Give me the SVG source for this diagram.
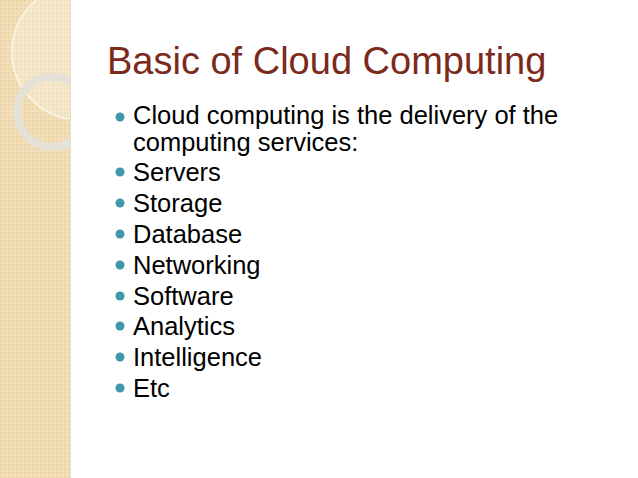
<svg xmlns="http://www.w3.org/2000/svg" width="638" height="478" viewBox="0 0 638 478">
<style>
.t{font-family:"Liberation Sans",Arial,sans-serif;font-size:25.5px;fill:#000}
.b{fill:#3f97aa}
</style>
<defs>
<pattern id="p" width="4" height="4" patternUnits="userSpaceOnUse"><rect width="4" height="4" fill="#f2dfb8"/><rect width="2" height="2" fill="#ead3a6"/></pattern>
<clipPath id="c"><rect width="70" height="478"/></clipPath>
</defs>
<rect width="638" height="478" fill="#fff"/>
<g id="strip">
<rect width="70" height="478" fill="url(#p)"/>
<rect x="69" width="2" height="478" fill="#e8dcc4"/>
<g clip-path="url(#c)">
<circle cx="80" cy="52" r="68" fill="#fff" fill-opacity="0.25" stroke="#fbf6ea" stroke-width="1.5"/>
<circle cx="52" cy="112" r="35" fill="none" stroke="#e6e1d6" stroke-width="8"/>
</g>
</g>
<text id="title" x="107" y="74" font-family="'Liberation Sans',Arial,sans-serif" font-size="38" fill="#7b2a1c">Basic of Cloud Computing</text>
<g id="bullets">
<circle class="b" cx="120" cy="117" r="4.5"/><text class="t" x="133" y="124">Cloud computing is the delivery of the</text>
<text class="t" x="133" y="151">computing services:</text>
<circle class="b" cx="120" cy="172" r="4.5"/><text class="t" x="133" y="181">Servers</text>
<circle class="b" cx="120" cy="203" r="4.5"/><text class="t" x="133" y="212">Storage</text>
<circle class="b" cx="120" cy="234" r="4.5"/><text class="t" x="133" y="243">Database</text>
<circle class="b" cx="120" cy="265" r="4.5"/><text class="t" x="133" y="274">Networking</text>
<circle class="b" cx="120" cy="296" r="4.5"/><text class="t" x="133" y="305">Software</text>
<circle class="b" cx="120" cy="326" r="4.5"/><text class="t" x="133" y="335">Analytics</text>
<circle class="b" cx="120" cy="357" r="4.5"/><text class="t" x="133" y="366">Intelligence</text>
<circle class="b" cx="120" cy="388" r="4.5"/><text class="t" x="133" y="397">Etc</text>
</g>
</svg>
